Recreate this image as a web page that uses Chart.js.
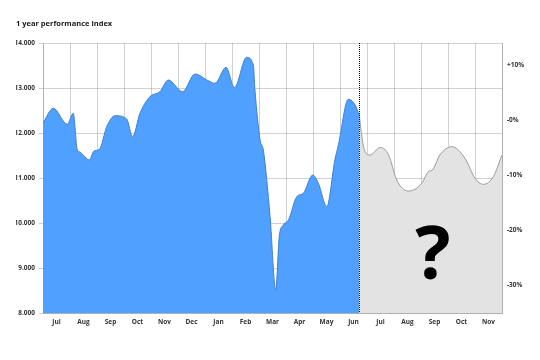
<!DOCTYPE html>
<html>
<head>
<meta charset="utf-8">
<script src="https://cdn.jsdelivr.net/npm/chart.js@4/dist/chart.umd.min.js"></script>
<style>
  html, body { margin: 0; padding: 0; background: #fff; }
  #wrap { width: 540px; height: 360px; }
</style>
</head>
<body>
<div id="wrap"><canvas id="c" width="540" height="360"></canvas></div>
<script>
// ---- data (x = months since start of July, y = index level) ----
const TITLE = '1 year performance index';
const MONTH_LABELS = ['Jul','Aug','Sep','Oct','Nov','Dec','Jan','Feb','Mar','Apr','May','Jun','Jul','Aug','Sep','Oct','Nov'];
const ACTUAL_X = [0, 0.38, 0.9, 1.12, 1.27, 1.34, 1.49, 1.71, 1.89, 2.09, 2.36, 2.67, 3.1, 3.32, 3.59, 3.96, 4.33, 4.64, 5.17, 5.63, 6.12, 6.37, 6.78, 7.09, 7.54, 7.79, 7.85, 8.04, 8.16, 8.41, 8.62, 8.75, 8.9, 9.09, 9.4, 9.64, 9.99, 10.2, 10.51, 10.81, 10.94, 11.31, 11.56, 11.71];
const ACTUAL_Y = [12222, 12548, 12193, 12437, 11622, 11585, 11511, 11400, 11600, 11637, 12141, 12385, 12311, 11918, 12437, 12807, 12918, 13178, 12918, 13311, 13163, 13104, 13459, 13007, 13681, 13511, 12956, 11844, 11622, 10141, 8511, 9696, 9956, 10067, 10585, 10659, 11067, 10881, 10363, 11400, 11733, 12748, 12622, 12400];
const FORECAST_X = [11.71, 11.87, 12.1, 12.5, 12.8, 13.1, 13.53, 14.03, 14.27, 14.42, 14.7, 15.14, 15.63, 16.0, 16.31, 16.68, 17];
const FORECAST_Y = [12400, 11700, 11511, 11681, 11511, 10956, 10711, 10881, 11141, 11178, 11511, 11696, 11437, 10993, 10859, 11030, 11511];
const Y_MIN = 8000, Y_MAX = 14000, Y_STEP = 1000;
const PCT_MIN = -35.1, PCT_MAX = 14.0;
const PCT_TICKS = [10, 0, -10, -20, -30];
const PCT_LABELS = ['+10%', '-0%', '-10%', '-20%', '-30%'];
const QUESTION = { text: '?', x: 14.44, y: 8756 };
const SPLIT_X = ACTUAL_X[ACTUAL_X.length - 1];

const toPts = (xs, ys) => xs.map((x, i) => ({ x, y: ys[i] }));
const fmtThousands = v => String(v).replace(/\B(?=(\d{3})+(?!\d))/g, '.');

const FONT = '"Open Sans", "DejaVu Sans", sans-serif';
const GRID = 'rgba(0,0,0,0.18)';

const overlay = {
  id: 'overlay',
  afterDatasetsDraw(chart) {
    const { ctx, chartArea: a, scales } = chart;
    const x = Math.round(scales.x.getPixelForValue(SPLIT_X)) + 0.5;
    ctx.save();
    ctx.strokeStyle = '#000';
    ctx.lineWidth = 1;
    ctx.setLineDash([1, 1]);
    ctx.beginPath();
    ctx.moveTo(x, a.top);
    ctx.lineTo(x, a.bottom);
    ctx.stroke();
    ctx.restore();
  },
  afterDraw(chart) {
    const { ctx, scales } = chart;
    ctx.save();
    ctx.fillStyle = '#000';
    ctx.font = 'bold 74px ' + FONT;
    ctx.textAlign = 'center';
    ctx.textBaseline = 'alphabetic';
    ctx.fillText(QUESTION.text, scales.x.getPixelForValue(QUESTION.x), scales.y.getPixelForValue(QUESTION.y));
    ctx.restore();
  }
};

new Chart(document.getElementById('c'), {
  type: 'line',
  data: {
    datasets: [
      {
        data: toPts(ACTUAL_X, ACTUAL_Y),
        borderColor: '#3f7fcf',
        borderWidth: 1,
        backgroundColor: 'rgb(80,160,255)',
        fill: 'start',
        pointRadius: 0,
        cubicInterpolationMode: 'monotone'
      },
      {
        data: toPts(FORECAST_X, FORECAST_Y),
        borderColor: '#9a9a9a',
        borderWidth: 1,
        backgroundColor: '#e3e3e3',
        fill: 'start',
        pointRadius: 0,
        cubicInterpolationMode: 'monotone'
      }
    ]
  },
  options: {
    responsive: false,
    animation: false,
    layout: { padding: { left: 16, right: 0, top: 0, bottom: 0 } },
    plugins: {
      legend: { display: false },
      tooltip: { enabled: false },
      title: {
        display: true,
        text: TITLE,
        align: 'start',
        color: '#1a1a1a',
        font: { family: FONT, size: 7.5, weight: 'bold' },
        padding: { top: 19, bottom: 15 }
      }
    },
    scales: {
      x: {
        type: 'linear',
        min: 0,
        max: MONTH_LABELS.length,
        z: 1,
        afterFit(s) { s.height = 47; },
        grid: { color: GRID, drawTicks: false },
        border: { display: true, color: '#b0b0b0' },
        ticks: {
          stepSize: 1,
          autoSkip: false,
          maxRotation: 0,
          padding: 5,
          labelOffset: 13.5,
          color: '#333',
          font: { family: FONT, size: 6.5, weight: 'bold' },
          callback: v => MONTH_LABELS[v] ?? ''
        }
      },
      y: {
        position: 'left',
        min: Y_MIN,
        max: Y_MAX,
        z: 1,
        afterFit(s) { s.width = 27; },
        grid: { color: GRID, drawTicks: true, tickLength: 4 },
        border: { display: true, color: '#b0b0b0' },
        ticks: {
          stepSize: Y_STEP,
          padding: 4,
          color: '#333',
          font: { family: FONT, size: 6.5, weight: 'bold' },
          callback: v => fmtThousands(v)
        }
      },
      y2: {
        position: 'right',
        min: PCT_MIN,
        max: PCT_MAX,
        z: 1,
        afterFit(s) { s.width = 38; },
        afterBuildTicks(s) { s.ticks = PCT_TICKS.map(v => ({ value: v })); },
        grid: { display: false, drawTicks: false },
        border: { display: true, color: '#b0b0b0' },
        ticks: {
          padding: 5,
          color: '#333',
          font: { family: FONT, size: 6.5, weight: 'bold' },
          callback: v => PCT_LABELS[PCT_TICKS.indexOf(v)]
        }
      }
    }
  },
  plugins: [overlay]
});
</script>
</body>
</html>
